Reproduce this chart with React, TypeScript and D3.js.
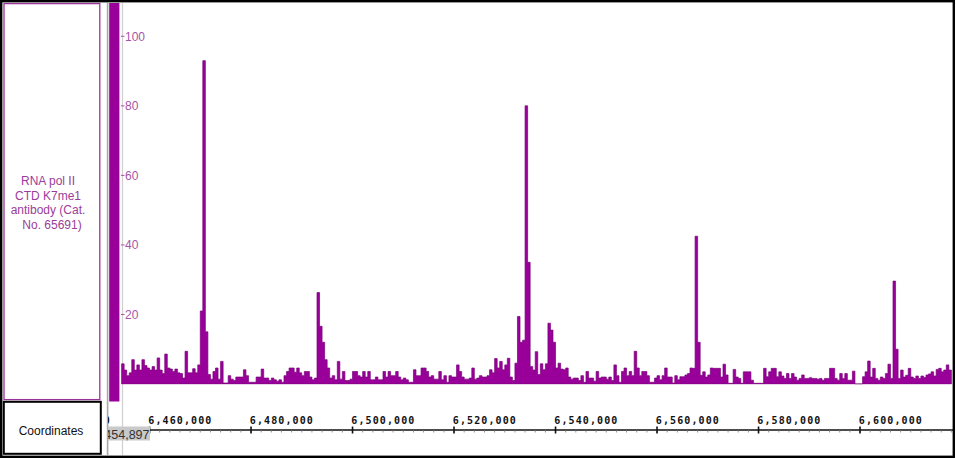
import React from "react";
import * as d3 from "d3";

// ---- data ----
const BIN_START = 6454500;
const BIN_SIZE = 500;
const signal: number[] = [
  5.8, 4, 2.4, 3.2, 7, 4, 5.5, 4, 7, 5.3,
  4.6, 4, 5, 4, 7.5, 4, 3, 8.6, 4.6, 4.3,
  3.6, 4.3, 3.2, 3, 1.7, 9.4, 3.2, 3.2, 4.4, 3.2,
  5.5, 21, 93, 15, 2.7, 1.4, 3.6, 4.6, 1.4, 6.5,
  0.3, 0.3, 2.4, 1.4, 1, 2, 2, 2, 4.1, 2.4,
  0.5, 0.5, 0.5, 2, 2, 4.3, 1.7, 1.7, 1, 1.7,
  1.2, 0.8, 1.2, 0.5, 2.4, 3.6, 4.6, 4.6, 3.4, 4.6,
  3.2, 2.4, 3.6, 3.6, 2, 1.2, 1.7, 26.3, 16.6, 12,
  7, 4.6, 1.7, 2.4, 1.2, 6.5, 1.4, 3.6, 1, 1,
  1.4, 3.6, 3.6, 2.4, 2, 3.6, 2, 3.6, 1.2, 1.2,
  2, 1.2, 1.2, 3.6, 2, 3.6, 2.4, 2.4, 3.6, 2,
  1.2, 1.7, 1.2, 0.5, 0.5, 4.1, 2.4, 2.4, 4.6, 4.6,
  3.6, 2, 2.4, 1.4, 1.4, 3.6, 1.2, 2.4, 0.5, 2.4,
  2, 2, 5.5, 3.6, 2, 1.4, 1.4, 1.7, 4.6, 1.4,
  1.7, 2.4, 2, 2, 2.4, 4.1, 3.2, 7.3, 4.6, 6.5,
  4.1, 5.5, 7.4, 2, 1, 6, 19.4, 12, 12.6, 80,
  35, 5, 4, 9.3, 2.7, 5.8, 4.1, 5.8, 17.5, 15.5,
  12, 4.6, 6, 4.3, 4.1, 4.6, 2, 1.4, 1.7, 1.7,
  1, 2.4, 0.5, 3.6, 1.7, 1.7, 0.8, 3.6, 1.7, 2,
  2, 1.4, 2, 1, 5.5, 2.4, 0.5, 3.6, 4.6, 2.4,
  3.6, 2.4, 9.4, 4.6, 2.4, 3.6, 3.6, 2.4, 0.5, 0.5,
  1.7, 2.4, 1.2, 2.4, 4.6, 2, 2, 0.3, 2.4, 1.2,
  2.1, 2.1, 2.6, 3, 4.6, 4.5, 42.5, 12, 2.5, 3.5,
  2, 2.6, 4.6, 4.5, 4.5, 4.5, 2, 5.7, 2.6, 0.2,
  0.2, 4.2, 2, 1.6, 0.2, 3.5, 3.5, 3.5, 1.1, 0.2,
  0.2, 0.2, 0.2, 4.5, 2.1, 3.5, 4.5, 4.5, 2.1, 3.5,
  2.3, 1.6, 3, 1.6, 3, 2, 1.1, 1.6, 2.6, 1.6,
  1.6, 1.8, 1.6, 1.6, 1.4, 1.6, 1.1, 1.6, 1.6, 4.5,
  4.5, 1.6, 1.1, 3, 1.6, 3, 1.1, 1.1, 3.7, 0,
  0, 0, 2.1, 3.5, 6.6, 2, 4.5, 1.6, 1.1, 2,
  1.6, 3, 5.7, 1.6, 29.6, 10, 1.6, 4, 2, 2.5,
  4.5, 2, 1.6, 2.3, 1.6, 2.3, 1.9, 2.6, 2.9, 3.5,
  2.3, 4.2, 4.5, 3.5, 4, 5.5, 4,
];
const yTicks = [20, 40, 60, 80, 100];
const coordTicks = [6440000, 6460000, 6480000, 6500000, 6520000, 6540000, 6560000, 6580000, 6600000];
const viewStart = 6454300;
const viewEnd = 6618300;
const startLabel = "6,454,897";
const trackLabel = ["RNA pol II", "CTD K7me1", "antibody (Cat.", "No. 65691)"];
const coordLabel = "Coordinates";

const PURPLE = "#990099";
const EDGE_PURPLE = "#7a007a";
const LABEL_PURPLE = "#9a3d9a";
const TICK_PURPLE = "#a655a6";

export default function App() {
  const W = 956, H = 459;
  const x = d3.scaleLinear().domain([viewStart, viewEnd]).range([120.6, 952.9]);
  const y = d3.scaleLinear().domain([0, 100]).range([384, 36.3]);

  const pts = signal.map((v, i) => ({ pos: BIN_START + i * BIN_SIZE, v }));
  pts.push({ pos: BIN_START + signal.length * BIN_SIZE, v: signal[signal.length - 1] });
  const area = d3
    .area<{ pos: number; v: number }>()
    .x((d) => x(d.pos))
    .y0(y(0))
    .y1((d) => y(d.v))
    .curve(d3.curveStepAfter);

  const fmt = d3.format(",");
  const minor = d3.range(6440000, viewEnd, 2000);
  const axisY = 430;

  return (
    <div style={{ position: "absolute", left: 0, top: 0, width: W, height: H, background: "#fff" }}>
      <svg width={W} height={H} style={{ display: "block" }}>
        <defs>
          <clipPath id="plotClip">
            <rect x={120.6} y={3} width={832.3} height={381.5} />
          </clipPath>
          <clipPath id="axisClip">
            <rect x={108} y={400} width={846} height={55} />
          </clipPath>
        </defs>
        <rect x={0} y={0} width={W} height={H} fill="#fff" />

        {/* left panel */}
        <rect x={4} y={3.6} width={95.8} height={396} fill="none" stroke="#993399" strokeWidth={1.3} />
        {trackLabel.map((t, i) => (
          <text
            key={t}
            x={i === 3 ? 52 : 48}
            y={185 + i * 14.7}
            textAnchor="middle"
            fontFamily="'Liberation Sans', Arial, sans-serif"
            fontSize={12}
            fill={LABEL_PURPLE}
          >
            {t}
          </text>
        ))}
        <rect x={3.8} y={401.8} width={97} height={52} fill="none" stroke="#000" strokeWidth={2} />
        <text
          x={51}
          y={435}
          textAnchor="middle"
          fontFamily="'Liberation Sans', Arial, sans-serif"
          fontSize={12}
          fill="#111"
        >
          {coordLabel}
        </text>

        {/* separators */}
        <line x1={107.6} x2={107.6} y1={3} y2={455} stroke="#a8a8a8" strokeWidth={1.6} />
        <rect x={109.2} y={3} width={10.2} height={398.5} fill={PURPLE} />
        <line x1={122.5} x2={122.5} y1={3} y2={455} stroke="#cfcfcf" strokeWidth={1.2} />

        {/* signal */}
        <g clipPath="url(#plotClip)">
          <path d={area(pts) ?? ""} fill={PURPLE} stroke={EDGE_PURPLE} strokeWidth={0.7} />
        </g>

        {/* y axis ticks */}
        {yTicks.map((t) => (
          <g key={t}>
            <line x1={121} x2={124.5} y1={y(t)} y2={y(t)} stroke={TICK_PURPLE} strokeWidth={1} />
            <text
              x={125}
              y={y(t) + 4.2}
              fontFamily="'Liberation Sans', Arial, sans-serif"
              fontSize={12}
              fill={TICK_PURPLE}
            >
              {t}
            </text>
          </g>
        ))}

        {/* coordinate axis */}
        <g clipPath="url(#axisClip)">
          <line x1={108} x2={953} y1={axisY} y2={axisY} stroke="#111" strokeWidth={1.5} />
          {minor.map((m) => (
            <line key={m} x1={x(m)} x2={x(m)} y1={axisY} y2={axisY + 2.5} stroke="#777" strokeWidth={0.8} />
          ))}
          {coordTicks.map((t) => (
            <g key={t}>
              <line x1={x(t)} x2={x(t)} y1={axisY - 3.5} y2={axisY + 3.5} stroke="#111" strokeWidth={1.6} />
              <text
                x={x(t) - 1.2}
                y={423.5}
                fontFamily="'DejaVu Sans Mono', monospace"
                fontWeight="bold"
                fontSize={10}
                letterSpacing={1.1}
                fill="#111"
              >
                {fmt(t)}
              </text>
            </g>
          ))}
          <rect x={108} y={426.5} width={42} height={14} fill="#c9c9c9" />
          <text
            x={149.5}
            y={438.5}
            textAnchor="end"
            fontFamily="'Liberation Sans', Arial, sans-serif"
            fontSize={12.5}
            fill="#333"
          >
            {startLabel}
          </text>
        </g>

        {/* outer frame */}
        <rect x={1.2} y={1.2} width={952.6} height={455.6} fill="none" stroke="#000" strokeWidth={2.4} />
      </svg>
    </div>
  );
}
